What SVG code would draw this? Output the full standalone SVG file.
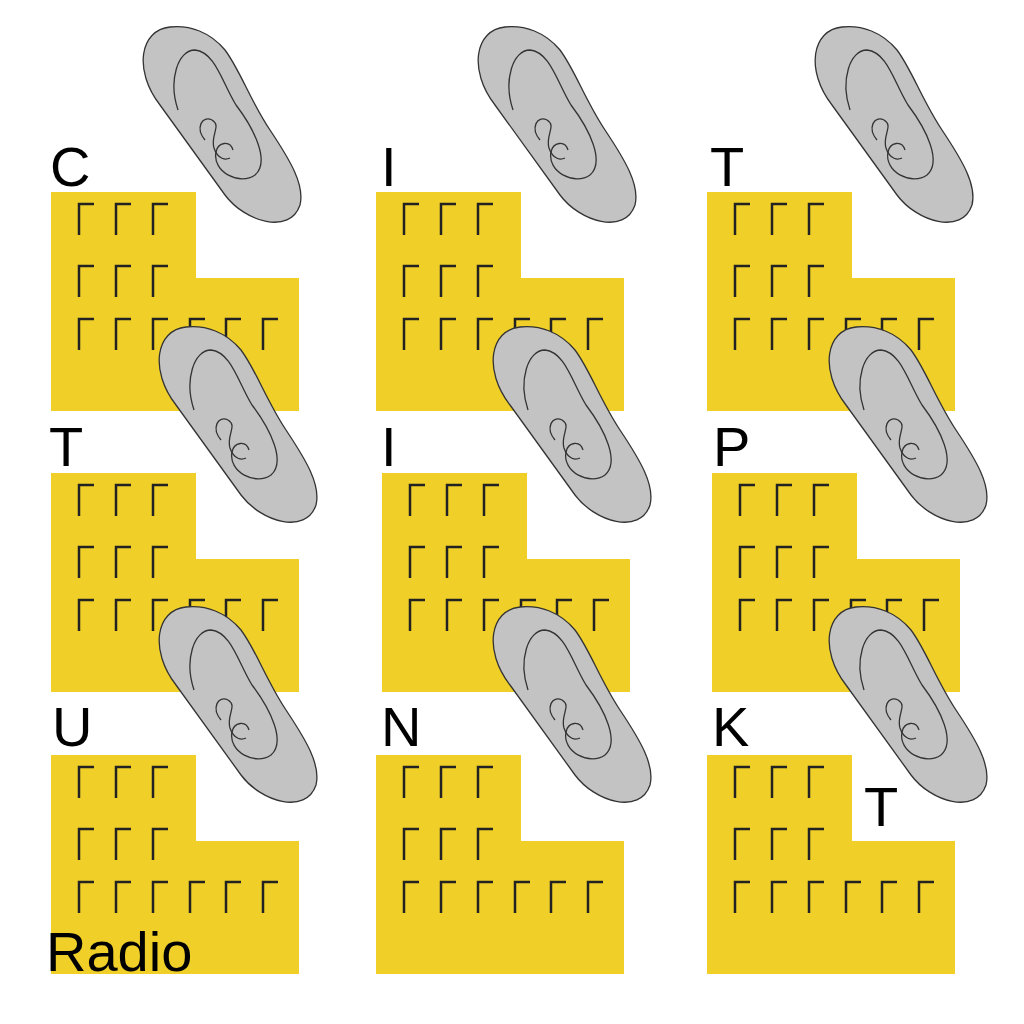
<svg xmlns="http://www.w3.org/2000/svg" xmlns:xlink="http://www.w3.org/1999/xlink" width="1024" height="1024" viewBox="0 0 1024 1024">
<style>
.b{fill:#f0d028}
.w{fill:none;stroke:#222;stroke-width:2.5}
.s{fill:#c3c3c3;stroke:#333;stroke-width:1.3}
.l{fill:none;stroke:#333;stroke-width:1.3}
.t{font-family:"Liberation Sans",Arial,sans-serif;font-size:56px;fill:#000}
</style>
<defs>
<g id="bld">
<path class="b" d="M0 0H145V86H248V219H0Z"/>
<path class="w" d="M28 43V12H43M65 43V12H80M102 43V12H117M28 105V74H43M65 105V74H80M102 105V74H117M28 158V127H43M65 158V127H80M102 158V127H117M139 158V127H154M175 158V127H190M212 158V127H227"/>
</g>
<g id="sole">
<path class="s" d="M170 27C140 30 133 70 160 105L225 195C245 222 290 235 300 205C305 185 290 160 270 130C250 100 240 70 225 50C210 32 190 25 170 27Z"/>
<path class="l" d="M178 110C168 80 178 50 195 50C215 52 222 82 236 105C255 130 270 162 255 175C240 186 212 172 216 152C218 142 230 140 233 150"/>
<path class="l" d="M205 140C195 128 202 115 212 120C222 126 210 135 214 148C218 160 226 160 230 158"/>
</g>
</defs>
<g id="row1">
<use xlink:href="#bld" x="51" y="192"/>
<use xlink:href="#bld" x="376" y="192"/>
<use xlink:href="#bld" x="707" y="192"/>
</g>
<g id="row2">
<use xlink:href="#bld" x="51" y="473"/>
<use xlink:href="#bld" x="382" y="473"/>
<use xlink:href="#bld" x="712" y="473"/>
</g>
<g id="row3">
<use xlink:href="#bld" x="51" y="755"/>
<use xlink:href="#bld" x="376" y="755"/>
<use xlink:href="#bld" x="707" y="755"/>
</g>
<g id="soles">
<use xlink:href="#sole" x="0" y="0"/>
<use xlink:href="#sole" x="335" y="0"/>
<use xlink:href="#sole" x="672" y="0"/>
<use xlink:href="#sole" x="16" y="300"/>
<use xlink:href="#sole" x="350" y="300"/>
<use xlink:href="#sole" x="686" y="300"/>
<use xlink:href="#sole" x="16" y="580"/>
<use xlink:href="#sole" x="350" y="580"/>
<use xlink:href="#sole" x="686" y="580"/>
</g>
<g id="labels">
<text class="t" x="50" y="186">C</text>
<text class="t" x="381" y="186">I</text>
<text class="t" x="710" y="186">T</text>
<text class="t" x="49" y="466">T</text>
<text class="t" x="381" y="466">I</text>
<text class="t" x="713" y="466">P</text>
<text class="t" x="52" y="746">U</text>
<text class="t" x="381" y="746">N</text>
<text class="t" x="712" y="746">K</text>
<text class="t" x="864" y="826">T</text>
<text class="t" x="46" y="971">Radio</text>
</g>
</svg>
